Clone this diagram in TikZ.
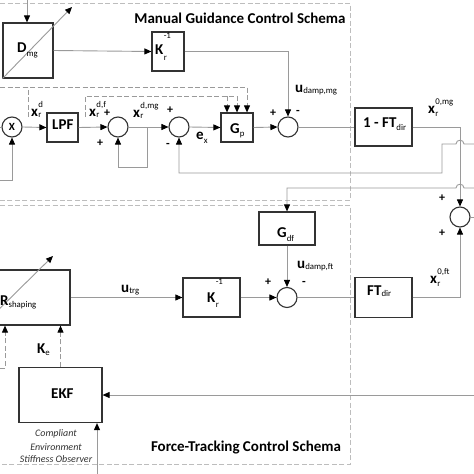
\documentclass[tikz,border=0pt]{standalone}
\usepackage{fontspec}
\setmainfont{Carlito}
\usetikzlibrary{arrows.meta}
\definecolor{sigc}{HTML}{9A9A9A}
\definecolor{boxc}{HTML}{333333}
\definecolor{frmc}{HTML}{BDBDBD}
\newcommand{\ssb}[1]{{\fontsize{8.8}{9}\selectfont\mdseries #1}}
\newcommand{\stk}[5]{#1\kern0.4pt\rlap{\raisebox{#4}{\ssb{#2}}}\raisebox{#5}{\ssb{#3}}}
\begin{document}
\begin{tikzpicture}[x=1pt,y=-1pt,
  blk/.style={draw=boxc, line width=1.2pt, fill=white, inner sep=0, rectangle},
  sumc/.style={draw=boxc, line width=1.1pt, circle, minimum size=20pt, inner sep=0, fill=white},
  sig/.style={draw=sigc, line width=0.9pt},
  tip/.style={-{Triangle[length=7pt,width=6pt,color=black]}},
  frm/.style={draw=frmc, line width=0.8pt, dash pattern=on 5pt off 2.5pt},
  dsig/.style={draw=sigc, line width=0.9pt, dash pattern=on 5pt off 2.5pt},
  lbl/.style={font=\fontsize{15}{15}\selectfont\bfseries, inner sep=0, anchor=base west},
  pm/.style={font=\fontsize{12}{12}\selectfont\bfseries, inner sep=0},
  ttl/.style={font=\fontsize{15}{15}\selectfont\bfseries, inner sep=0},
  obs/.style={font=\fontsize{10}{10}\selectfont\itshape, text=boxc, inner sep=0}]
\useasboundingbox (0,0) rectangle (474,474);
\clip (0,0) rectangle (474,474);
\fill[white] (0,0) rectangle (474,474);

% frames
\draw[frm] (0,3) -- (350,3) -- (350,200) -- (0,200);
\draw[frm] (0,205) -- (350,205) -- (350,464) -- (0,464);

% blocks
\node[blk, minimum width=50pt, minimum height=55pt] (Dmg) at (28,50.5) {};
\node[blk, minimum width=32pt, minimum height=39pt] (Kr1) at (168,51.5) {};
\node[sumc, font=\fontsize{11}{11}\selectfont\bfseries] (mult) at (12,127) {X};
\node[blk, minimum width=31pt, minimum height=29pt] (LPF) at (62.5,127.5) {};
\node[sumc] (s1) at (118,127) {};
\node[sumc] (s2) at (179,127) {};
\node[blk, minimum width=32pt, minimum height=29pt] (Gp) at (237,127.5) {};
\node[sumc] (s3) at (288,127) {};
\node[blk, minimum width=57pt, minimum height=38pt] (FT1) at (383.5,127) {};
\node[sumc] (s5) at (460,217) {};
\node[blk, minimum width=87pt, minimum height=55pt] (Rsh) at (26.5,297.5) {};
\node[blk, minimum width=57pt, minimum height=39pt] (Kr2) at (211.5,297.5) {};
\node[sumc] (s4) at (287,297.5) {};
\node[blk, minimum width=56pt, minimum height=33pt] (Gdf) at (287,228.5) {};
\node[blk, minimum width=57pt, minimum height=40pt] (FT2) at (383.5,297.5) {};
\node[blk, minimum width=83pt, minimum height=55pt] (EKF) at (60.5,395) {};

% coordinates
\coordinate (topIn) at (27,0);
\coordinate (dTip) at (72,7);
\coordinate (rTip) at (53,256);
\coordinate (k1c) at (288,51.5);
\coordinate (inX) at (0,127);
\coordinate (inX2) at (0,180);
\coordinate (cX2) at (12,180);
\coordinate (fb1a) at (147,127);
\coordinate (fb1b) at (147,167);
\coordinate (cR1) at (460,127);
\coordinate (cR2) at (460,297.5);
\coordinate (outR) at (474,217);
\coordinate (inA) at (474,144);
\coordinate (h1a) at (464,144);
\coordinate (h1b) at (456,144);
\coordinate (cB1) at (442,144);
\coordinate (cB2) at (442,173);
\coordinate (inB) at (474,188);
\coordinate (h2a) at (464,188);
\coordinate (h2b) at (456,188);
\coordinate (cC) at (287,188);
\coordinate (inE) at (474,395);
\coordinate (inE2) at (97,474);
\coordinate (inK) at (0,368);
\coordinate (cK) at (5,368);
\coordinate (L0) at (0,87);
\coordinate (cA) at (247,87);
\coordinate (tapA) at (28,117);
\coordinate (tapB) at (85,117);
\coordinate (cD) at (85,96);
\coordinate (cE) at (237,96);
\coordinate (cF) at (227,96);

% connectors
\draw[sig,tip] (topIn) -- (topIn |- Dmg.north);
\draw[sig,tip] (Dmg.south west) -- (dTip);
\draw[sig,tip] (Dmg.east) -- (Kr1.west);
\draw[sig,tip] (Kr1.east) -- (k1c) -- (s3.north);
\draw[sig] (inX) -- (mult.west);
\draw[sig,tip] (inX2) -- (cX2) -- (mult.south);
\draw[sig,tip] (mult.east) -- (LPF.west);
\draw[sig,tip] (LPF.east) -- (s1.west);
\draw[sig,tip] (s1.east) -- (s2.west);
\draw[sig,tip] (fb1a) -- (fb1b) -| (s1.south);
\draw[sig,tip] (s2.east) -- (Gp.west);
\draw[sig,tip] (Gp.east) -- (s3.west);
\draw[sig] (s3.east) -- (FT1.west);
\draw[sig,tip] (FT1.east) -- (cR1) -- (s5.north);
\draw[sig,tip] (FT2.east) -- (cR2) -- (s5.south);
\draw[sig] (s5.east) -- (outR);
\draw[sig,tip] (inA) -- (h1a) .. controls (464,139) and (456,139) .. (h1b) -- (cB1) -- (cB2) -| (s2.south);
\draw[sig,tip] (inB) -- (h2a) .. controls (464,183) and (456,183) .. (h2b) -- (cC) -- (Gdf.north);
\draw[sig,tip] (Rsh.east) -- (Kr2.west);
\draw[sig,tip] (Kr2.east) -- (s4.west);
\draw[sig,tip] (Gdf.south) -- (s4.north);
\draw[sig] (s4.east) -- (FT2.west);
\draw[sig,tip] (inE) -- (EKF.east);
\draw[sig,tip] (inE2) -- (inE2 |- EKF.south);
\draw[sig,tip] (Rsh.south west) -- (rTip);
\draw[dsig,tip] (EKF.north) -- (EKF.north |- Rsh.south);
\draw[dsig,tip] (inK) -- (cK) -- (cK |- Rsh.south);
\draw[dsig,tip] (L0) -- (cA) -- (cA |- Gp.north);
\draw[dsig] (tapA) -- (tapA |- cA);
\draw[dsig,tip] (tapB) -- (cD) -- (cE) -- (cE |- Gp.north);
\draw[dsig,tip] (cF) -- (cF |- Gp.north);

% block labels
\node[lbl] (tDmg) at (17,52) {D\raisebox{-4pt}{\ssb{mg}}};
\node[lbl] (tKr1) at (155,54) {\stk{K}{-1}{r}{16pt}{-6pt}};
\node[lbl] (tLPF) at (52,129) {LPF};
\node[lbl] (tGp) at (230,133) {G\raisebox{-3pt}{\ssb{p}}};
\node[lbl] (tFT1) at (363,127) {1 - FT\raisebox{-3pt}{\ssb{dir}}};
\node[lbl] (tRsh) at (0,305) {R\raisebox{-2pt}{\ssb{shaping}}};
\node[lbl] (tKr2) at (207,302) {\stk{K}{-1}{r}{18pt}{-5pt}};
\node[lbl] (tGdf) at (277,237) {G\raisebox{-4pt}{\ssb{df}}};
\node[lbl] (tFT2) at (367,295) {FT\raisebox{-1pt}{\ssb{dir}}};
\node[lbl] (tEKF) at (51,398) {EKF};

% signal labels
\node[lbl] (lxd) at (31,116) {\stk{x}{d}{r}{9pt}{-1pt}};
\node[lbl] (lxdf) at (89,116) {\stk{x}{d,f}{r}{9pt}{-1pt}};
\node[lbl] (lxdmg) at (133,117) {\stk{x}{d,mg}{r}{9pt}{-1pt}};
\node[lbl] (lx0mg) at (428,113) {\stk{x}{0,mg}{r}{9pt}{-3pt}};
\node[lbl] (lx0ft) at (430,283) {\stk{x}{0,ft}{r}{9pt}{-3pt}};
\node[lbl] (lex) at (196,139) {e\raisebox{-4pt}{\ssb{x}}};
\node[lbl] (lKe) at (37,353) {K\raisebox{-2pt}{\ssb{e}}};
\node[lbl] (lumg) at (295,92) {u\raisebox{-1pt}{\ssb{damp,mg}}};
\node[lbl] (lutrg) at (121,292) {u\raisebox{-1.5pt}{\ssb{trg}}};
\node[lbl] (luft) at (297,268) {u\raisebox{-1pt}{\ssb{damp,ft}}};

% signs
\node[pm] (p1a) at (107,113) {+};
\node[pm] (p1b) at (100,143) {+};
\node[pm] (p2a) at (170,110) {+};
\node[pm] (p2b) at (168,145) {-};
\node[pm] (p3a) at (273,113) {+};
\node[pm] (p3b) at (298,112) {-};
\node[pm] (p4a) at (268,282) {+};
\node[pm] (p4b) at (304,283) {-};
\node[pm] (p5a) at (442,198) {+};
\node[pm] (p5b) at (442,233) {+};

% titles
\node[ttl] (tMG) at (240,18) {Manual Guidance Control Schema};
\node[ttl] (tFTr) at (246,448) {Force-Tracking Control Schema};
\node[obs] (o1) at (56,434) {Compliant};
\node[obs] (o2) at (56,447) {Environment};
\node[obs] (o3) at (56,459) {Stiffness Observer};
\end{tikzpicture}
\end{document}
